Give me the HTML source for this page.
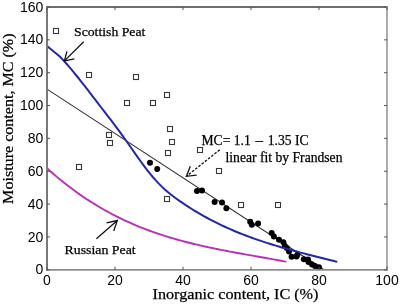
<!DOCTYPE html>
<html><head><meta charset="utf-8"><style>
html,body{margin:0;padding:0;background:#fff;}
body{width:400px;height:304px;overflow:hidden;}
svg{display:block;}
.tk{font-family:"Liberation Sans",Arial,sans-serif;font-size:14px;fill:#000;}
.sr{font-family:"Liberation Serif","Times New Roman",serif;fill:#000;stroke:#000;stroke-width:0.25px;}
</style></head><body>
<svg width="400" height="304" viewBox="0 0 400 304">
<rect x="0" y="0" width="400" height="304" fill="#fff"/>

<line x1="47.00" y1="89.12" x2="324.04" y2="269.80" stroke="#333" stroke-width="1.1"/>
<circle cx="150.00" cy="162.80" r="3" fill="#000"/>
<circle cx="157.20" cy="169.00" r="3" fill="#000"/>
<circle cx="197.00" cy="191.00" r="3" fill="#000"/>
<circle cx="202.00" cy="190.50" r="3" fill="#000"/>
<circle cx="214.60" cy="201.90" r="3" fill="#000"/>
<circle cx="222.00" cy="202.40" r="3" fill="#000"/>
<circle cx="226.40" cy="208.20" r="3" fill="#000"/>
<circle cx="250.20" cy="221.70" r="3" fill="#000"/>
<circle cx="251.80" cy="224.70" r="3" fill="#000"/>
<circle cx="258.10" cy="223.40" r="3" fill="#000"/>
<circle cx="271.70" cy="233.00" r="3" fill="#000"/>
<circle cx="273.90" cy="236.40" r="3" fill="#000"/>
<circle cx="279.00" cy="239.70" r="3" fill="#000"/>
<circle cx="283.40" cy="242.30" r="3" fill="#000"/>
<circle cx="284.90" cy="245.90" r="3" fill="#000"/>
<circle cx="286.80" cy="248.10" r="3" fill="#000"/>
<circle cx="289.00" cy="251.50" r="3" fill="#000"/>
<circle cx="291.60" cy="256.80" r="3" fill="#000"/>
<circle cx="296.50" cy="256.50" r="3" fill="#000"/>
<circle cx="297.40" cy="254.80" r="3" fill="#000"/>
<circle cx="303.80" cy="259.20" r="3" fill="#000"/>
<circle cx="308.00" cy="259.50" r="3" fill="#000"/>
<circle cx="308.50" cy="262.00" r="3" fill="#000"/>
<circle cx="312.00" cy="264.50" r="3" fill="#000"/>
<circle cx="315.00" cy="266.00" r="3" fill="#000"/>
<circle cx="319.00" cy="267.20" r="3" fill="#000"/>
<polyline points="47.00,45.90 59.80,56.51 62.80,59.68 65.80,62.97 68.80,66.39 71.80,69.92 74.80,73.54 77.80,77.25 80.80,81.02 83.80,84.85 86.80,88.72 89.80,92.62 92.80,96.53 95.80,100.46 98.80,104.37 101.80,108.26 104.80,112.16 107.80,116.06 110.80,119.98 113.80,123.93 116.80,127.92 119.80,131.97 122.80,136.09 125.80,140.28 128.80,144.52 131.80,148.79 134.80,153.06 137.80,157.30 140.80,161.47 143.80,165.56 146.80,169.53 149.80,173.35 152.80,177.00 155.80,180.44 158.80,183.64 161.80,186.63 164.80,189.41 167.80,192.02 170.80,194.47 173.80,196.79 176.80,199.00 179.80,201.12 182.80,203.17 185.80,205.17 188.80,207.12 191.80,209.02 194.80,210.86 197.80,212.66 200.80,214.40 203.80,216.10 206.80,217.75 209.80,219.36 212.80,220.92 215.80,222.45 218.80,223.92 221.80,225.36 224.80,226.76 227.80,228.12 230.80,229.45 233.80,230.74 236.80,231.99 239.80,233.21 242.80,234.40 245.80,235.55 248.80,236.68 251.80,237.78 254.80,238.85 257.80,239.89 260.80,240.91 263.80,241.90 266.80,242.87 269.80,243.82 272.80,244.75 275.80,245.66 278.80,246.55 281.80,247.42 284.80,248.28 287.80,249.12 290.80,249.94 293.80,250.76 296.80,251.56 299.80,252.35 302.80,253.14 305.80,253.91 308.80,254.68 311.80,255.44 314.80,256.20 317.80,256.96 320.80,257.71 323.80,258.46 326.80,259.21 329.80,259.96 332.80,260.72 335.80,261.47 336.50,261.65" fill="none" stroke="#2228a8" stroke-width="2" stroke-linejoin="round" stroke-linecap="round"/>
<polyline points="47.00,168.22 50.00,170.92 53.00,173.55 56.00,176.13 59.00,178.64 62.00,181.10 65.00,183.49 68.00,185.83 71.00,188.11 74.00,190.34 77.00,192.51 80.00,194.63 83.00,196.69 86.00,198.70 89.00,200.66 92.00,202.57 95.00,204.43 98.00,206.25 101.00,208.01 104.00,209.73 107.00,211.40 110.00,213.03 113.00,214.61 116.00,216.15 119.00,217.64 122.00,219.10 125.00,220.52 128.00,221.89 131.00,223.23 134.00,224.53 137.00,225.79 140.00,227.02 143.00,228.21 146.00,229.37 149.00,230.49 152.00,231.58 155.00,232.64 158.00,233.67 161.00,234.67 164.00,235.64 167.00,236.59 170.00,237.50 173.00,238.39 176.00,239.26 179.00,240.10 182.00,240.92 185.00,241.72 188.00,242.49 191.00,243.24 194.00,243.98 197.00,244.69 200.00,245.39 203.00,246.07 206.00,246.74 209.00,247.39 212.00,248.02 215.00,248.64 218.00,249.25 221.00,249.85 224.00,250.44 227.00,251.02 230.00,251.59 233.00,252.15 236.00,252.70 239.00,253.25 242.00,253.79 245.00,254.33 248.00,254.87 251.00,255.40 254.00,255.93 257.00,256.46 260.00,256.99 263.00,257.52 266.00,258.05 269.00,258.59 272.00,259.13 275.00,259.68 278.00,260.23 281.00,260.79 284.00,261.35 285.60,261.66" fill="none" stroke="#b830b8" stroke-width="1.9" stroke-linejoin="round" stroke-linecap="round"/>
<rect x="53.50" y="28.50" width="5" height="5" fill="none" stroke="#383838" stroke-width="1.1"/>
<rect x="86.50" y="72.50" width="5" height="5" fill="none" stroke="#383838" stroke-width="1.1"/>
<rect x="133.50" y="74.50" width="5" height="5" fill="none" stroke="#383838" stroke-width="1.1"/>
<rect x="124.50" y="100.50" width="5" height="5" fill="none" stroke="#383838" stroke-width="1.1"/>
<rect x="150.50" y="100.50" width="5" height="5" fill="none" stroke="#383838" stroke-width="1.1"/>
<rect x="164.50" y="92.50" width="5" height="5" fill="none" stroke="#383838" stroke-width="1.1"/>
<rect x="167.50" y="126.50" width="5" height="5" fill="none" stroke="#383838" stroke-width="1.1"/>
<rect x="106.50" y="132.50" width="5" height="5" fill="none" stroke="#383838" stroke-width="1.1"/>
<rect x="107.50" y="140.50" width="5" height="5" fill="none" stroke="#383838" stroke-width="1.1"/>
<rect x="169.50" y="139.50" width="5" height="5" fill="none" stroke="#383838" stroke-width="1.1"/>
<rect x="165.50" y="150.50" width="5" height="5" fill="none" stroke="#383838" stroke-width="1.1"/>
<rect x="197.50" y="147.50" width="5" height="5" fill="none" stroke="#383838" stroke-width="1.1"/>
<rect x="216.50" y="168.50" width="5" height="5" fill="none" stroke="#383838" stroke-width="1.1"/>
<rect x="76.50" y="164.50" width="5" height="5" fill="none" stroke="#383838" stroke-width="1.1"/>
<rect x="164.50" y="196.50" width="5" height="5" fill="none" stroke="#383838" stroke-width="1.1"/>
<rect x="238.50" y="202.50" width="5" height="5" fill="none" stroke="#383838" stroke-width="1.1"/>
<rect x="275.50" y="202.50" width="5" height="5" fill="none" stroke="#383838" stroke-width="1.1"/>
<line x1="46.00" y1="7.00" x2="388.00" y2="7.00" stroke="#6e6e6e" stroke-width="2"/>
<line x1="46.00" y1="269.80" x2="388.00" y2="269.80" stroke="#8c8c8c" stroke-width="1.8"/>
<line x1="47.00" y1="6.00" x2="47.00" y2="270.70" stroke="#787878" stroke-width="2"/>
<line x1="387.00" y1="6.00" x2="387.00" y2="270.70" stroke="#ababab" stroke-width="2"/>
<line x1="47.00" y1="269.80" x2="47.00" y2="266.80" stroke="#555" stroke-width="1"/>
<line x1="47.00" y1="7.00" x2="47.00" y2="10.00" stroke="#555" stroke-width="1"/>
<line x1="115.00" y1="269.80" x2="115.00" y2="266.80" stroke="#555" stroke-width="1"/>
<line x1="115.00" y1="7.00" x2="115.00" y2="10.00" stroke="#555" stroke-width="1"/>
<line x1="183.00" y1="269.80" x2="183.00" y2="266.80" stroke="#555" stroke-width="1"/>
<line x1="183.00" y1="7.00" x2="183.00" y2="10.00" stroke="#555" stroke-width="1"/>
<line x1="251.00" y1="269.80" x2="251.00" y2="266.80" stroke="#555" stroke-width="1"/>
<line x1="251.00" y1="7.00" x2="251.00" y2="10.00" stroke="#555" stroke-width="1"/>
<line x1="319.00" y1="269.80" x2="319.00" y2="266.80" stroke="#555" stroke-width="1"/>
<line x1="319.00" y1="7.00" x2="319.00" y2="10.00" stroke="#555" stroke-width="1"/>
<line x1="387.00" y1="269.80" x2="387.00" y2="266.80" stroke="#555" stroke-width="1"/>
<line x1="387.00" y1="7.00" x2="387.00" y2="10.00" stroke="#555" stroke-width="1"/>
<line x1="47.00" y1="269.80" x2="50.00" y2="269.80" stroke="#555" stroke-width="1"/>
<line x1="387.00" y1="269.80" x2="384.00" y2="269.80" stroke="#555" stroke-width="1"/>
<line x1="47.00" y1="236.95" x2="50.00" y2="236.95" stroke="#555" stroke-width="1"/>
<line x1="387.00" y1="236.95" x2="384.00" y2="236.95" stroke="#555" stroke-width="1"/>
<line x1="47.00" y1="204.10" x2="50.00" y2="204.10" stroke="#555" stroke-width="1"/>
<line x1="387.00" y1="204.10" x2="384.00" y2="204.10" stroke="#555" stroke-width="1"/>
<line x1="47.00" y1="171.25" x2="50.00" y2="171.25" stroke="#555" stroke-width="1"/>
<line x1="387.00" y1="171.25" x2="384.00" y2="171.25" stroke="#555" stroke-width="1"/>
<line x1="47.00" y1="138.40" x2="50.00" y2="138.40" stroke="#555" stroke-width="1"/>
<line x1="387.00" y1="138.40" x2="384.00" y2="138.40" stroke="#555" stroke-width="1"/>
<line x1="47.00" y1="105.55" x2="50.00" y2="105.55" stroke="#555" stroke-width="1"/>
<line x1="387.00" y1="105.55" x2="384.00" y2="105.55" stroke="#555" stroke-width="1"/>
<line x1="47.00" y1="72.70" x2="50.00" y2="72.70" stroke="#555" stroke-width="1"/>
<line x1="387.00" y1="72.70" x2="384.00" y2="72.70" stroke="#555" stroke-width="1"/>
<line x1="47.00" y1="39.85" x2="50.00" y2="39.85" stroke="#555" stroke-width="1"/>
<line x1="387.00" y1="39.85" x2="384.00" y2="39.85" stroke="#555" stroke-width="1"/>
<line x1="47.00" y1="7.00" x2="50.00" y2="7.00" stroke="#555" stroke-width="1"/>
<line x1="387.00" y1="7.00" x2="384.00" y2="7.00" stroke="#555" stroke-width="1"/>
<text class="tk" x="43.4" y="274.40" text-anchor="end">0</text>
<text class="tk" x="43.4" y="241.55" text-anchor="end">20</text>
<text class="tk" x="43.4" y="208.70" text-anchor="end">40</text>
<text class="tk" x="43.4" y="175.85" text-anchor="end">60</text>
<text class="tk" x="43.4" y="143.00" text-anchor="end">80</text>
<text class="tk" x="43.4" y="110.15" text-anchor="end">100</text>
<text class="tk" x="43.4" y="77.30" text-anchor="end">120</text>
<text class="tk" x="43.4" y="44.45" text-anchor="end">140</text>
<text class="tk" x="43.4" y="11.60" text-anchor="end">160</text>
<text class="tk" x="47.00" y="285.3" text-anchor="middle">0</text>
<text class="tk" x="115.00" y="285.3" text-anchor="middle">20</text>
<text class="tk" x="183.00" y="285.3" text-anchor="middle">40</text>
<text class="tk" x="251.00" y="285.3" text-anchor="middle">60</text>
<text class="tk" x="319.00" y="285.3" text-anchor="middle">80</text>
<text class="tk" x="387.00" y="285.3" text-anchor="middle">100</text>
<line x1="83.7" y1="41.7" x2="64.4" y2="60.9" stroke="#111" stroke-width="1.3" /><polyline points="66.9,51.3 64.4,60.9 74.4,58.9" fill="none" stroke="#111" stroke-width="1.3"/>
<line x1="96.4" y1="238.8" x2="117.3" y2="220.5" stroke="#111" stroke-width="1.3" /><polyline points="106.6,222.8 117.3,220.5 113.7,231" fill="none" stroke="#111" stroke-width="1.3"/>
<line x1="219.7" y1="149.8" x2="186.4" y2="176.3" stroke="#111" stroke-width="1.3" stroke-dasharray="2.6,1.5"/><polyline points="190.3,166.3 186.4,176.3 196.7,175.1" fill="none" stroke="#111" stroke-width="1.3"/>
<text class="sr" x="74" y="36.3" font-size="13.4" textLength="71.4" lengthAdjust="spacingAndGlyphs">Scottish Peat</text>
<text class="sr" x="64.5" y="254.3" font-size="13.4" textLength="71.2" lengthAdjust="spacingAndGlyphs">Russian Peat</text>
<text class="sr" y="145.2" font-size="13.6"><tspan x="201.5">MC= 1.1 </tspan><tspan x="254.6" dy="1.8" font-size="16.5">&#8722; </tspan><tspan x="267.7" dy="-1.8">1.35 IC</tspan></text>
<text class="sr" x="225.5" y="161.9" font-size="13.6" textLength="117" lengthAdjust="spacingAndGlyphs">linear fit by Frandsen</text>
<text class="sr" x="152.5" y="298.8" font-size="15.5" textLength="166" lengthAdjust="spacingAndGlyphs">Inorganic content, IC (%)</text>
<text class="sr" transform="translate(13.4,203.9) rotate(-90)" x="0" y="0" font-size="15.5" textLength="170.5" lengthAdjust="spacingAndGlyphs">Moisture content, MC (%)</text>
</svg></body></html>
